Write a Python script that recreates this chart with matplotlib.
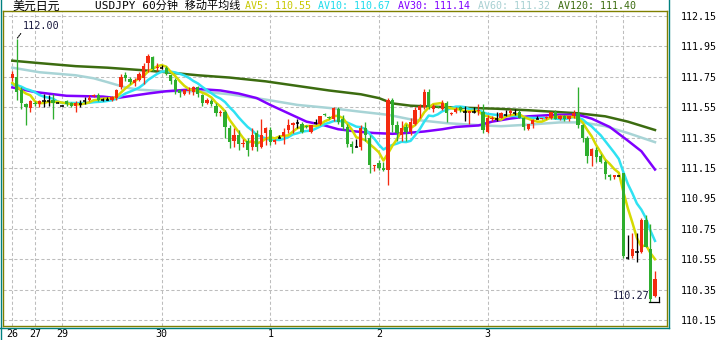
import matplotlib
matplotlib.use('Agg')
import matplotlib.pyplot as plt
from matplotlib.lines import Line2D
import numpy as np

# ---------------- data ----------------
opens = [111.74, 111.75, 111.66, 111.57, 111.545, 111.58, 111.57, 111.59, 111.59, 111.60,
         111.58, 111.56, 111.59, 111.58, 111.56, 111.57, 111.59, 111.60, 111.625, 111.63,
         111.60, 111.60, 111.60, 111.61, 111.68, 111.76, 111.735, 111.71, 111.73, 111.74,
         111.84, 111.88, 111.805, 111.81, 111.81, 111.76, 111.73, 111.66, 111.64, 111.655,
         111.65, 111.68, 111.63, 111.58, 111.59, 111.56, 111.51, 111.52, 111.41, 111.33,
         111.37, 111.31, 111.33, 111.29, 111.38, 111.29, 111.38, 111.40, 111.32, 111.35,
         111.36, 111.40, 111.43, 111.445, 111.44, 111.425, 111.39, 111.445, 111.44, 111.505,
         111.485, 111.47, 111.54, 111.47, 111.42, 111.31, 111.29, 111.29, 111.41, 111.35,
         111.16, 111.18, 111.145, 111.14, 111.60, 111.43, 111.37, 111.42, 111.39, 111.44,
         111.53, 111.55, 111.65, 111.54, 111.555, 111.54, 111.58, 111.505, 111.52, 111.55,
         111.52, 111.515, 111.52, 111.525, 111.52, 111.39, 111.47, 111.475, 111.48, 111.50,
         111.515, 111.51, 111.52, 111.48, 111.405, 111.44, 111.47, 111.475, 111.48, 111.48,
         111.52, 111.47, 111.49, 111.47, 111.49, 111.51, 111.43, 111.35, 111.23, 111.27,
         111.23, 111.19, 111.105, 111.09, 111.10, 111.12, 110.56, 110.57, 110.60, 110.60,
         110.81, 110.62, 110.31]
highs = [111.79, 112.00, 111.68, 111.58, 111.60, 111.59, 111.60, 111.64, 111.63, 111.64,
         111.585, 111.565, 111.60, 111.585, 111.59, 111.60, 111.62, 111.63, 111.635, 111.645,
         111.61, 111.62, 111.625, 111.67, 111.77, 111.78, 111.75, 111.74, 111.78, 111.84,
         111.90, 111.89, 111.84, 111.83, 111.82, 111.77, 111.745, 111.67, 111.67, 111.68,
         111.69, 111.69, 111.64, 111.61, 111.605, 111.58, 111.53, 111.53, 111.43, 111.41,
         111.40, 111.34, 111.35, 111.41, 111.40, 111.47, 111.42, 111.42, 111.34, 111.365,
         111.41, 111.47, 111.45, 111.47, 111.45, 111.43, 111.43, 111.47, 111.495, 111.515,
         111.495, 111.55, 111.55, 111.50, 111.44, 111.33, 111.34, 111.43, 111.45, 111.37,
         111.17, 111.20, 111.19, 111.61, 111.61, 111.46, 111.46, 111.44, 111.48, 111.55,
         111.57, 111.67, 111.67, 111.57, 111.56, 111.60, 111.59, 111.52, 111.55, 111.56,
         111.56, 111.525, 111.55, 111.57, 111.57, 111.50, 111.49, 111.52, 111.52, 111.53,
         111.54, 111.54, 111.53, 111.485, 111.44, 111.47, 111.49, 111.48, 111.49, 111.52,
         111.53, 111.50, 111.50, 111.49, 111.53, 111.68, 111.44, 111.36, 111.28, 111.29,
         111.24, 111.20, 111.11, 111.105, 111.10, 111.12, 110.71, 110.72, 110.72, 110.82,
         110.84, 110.78, 110.47]
lows = [111.72, 111.60, 111.54, 111.43, 111.52, 111.555, 111.55, 111.55, 111.56, 111.47,
        111.575, 111.555, 111.56, 111.55, 111.52, 111.55, 111.57, 111.59, 111.62, 111.59,
        111.59, 111.595, 111.59, 111.60, 111.67, 111.72, 111.70, 111.69, 111.72, 111.70,
        111.78, 111.79, 111.79, 111.80, 111.76, 111.70, 111.64, 111.62, 111.63, 111.64,
        111.63, 111.62, 111.56, 111.57, 111.56, 111.49, 111.49, 111.35, 111.28, 111.29,
        111.27, 111.29, 111.23, 111.27, 111.26, 111.28, 111.30, 111.30, 111.31, 111.345,
        111.31, 111.38, 111.38, 111.41, 111.38, 111.41, 111.38, 111.44, 111.43, 111.49,
        111.47, 111.46, 111.44, 111.40, 111.29, 111.25, 111.29, 111.27, 111.33, 111.12,
        111.13, 111.14, 111.13, 111.04, 111.39, 111.33, 111.33, 111.33, 111.37, 111.43,
        111.48, 111.54, 111.54, 111.52, 111.545, 111.53, 111.45, 111.50, 111.51, 111.52,
        111.46, 111.44, 111.51, 111.50, 111.38, 111.38, 111.46, 111.46, 111.48, 111.49,
        111.50, 111.50, 111.48, 111.40, 111.40, 111.41, 111.47, 111.47, 111.475, 111.47,
        111.47, 111.465, 111.46, 111.46, 111.48, 111.41, 111.32, 111.18, 111.16, 111.19,
        111.18, 111.08, 111.07, 111.08, 111.10, 110.56, 110.55, 110.56, 110.53, 110.59,
        110.63, 110.27, 110.30]
closes = [111.77, 111.65, 111.58, 111.55, 111.59, 111.57, 111.59, 111.59, 111.59, 111.58,
          111.58, 111.56, 111.57, 111.56, 111.58, 111.57, 111.59, 111.61, 111.63, 111.60,
          111.60, 111.60, 111.62, 111.66, 111.75, 111.74, 111.715, 111.73, 111.77, 111.82,
          111.89, 111.80, 111.815, 111.81, 111.77, 111.72, 111.66, 111.645, 111.66, 111.665,
          111.68, 111.64, 111.58, 111.60, 111.57, 111.51, 111.515, 111.42, 111.32, 111.37,
          111.31, 111.315, 111.27, 111.37, 111.29, 111.37, 111.41, 111.32, 111.335, 111.35,
          111.39, 111.43, 111.445, 111.445, 111.39, 111.42, 111.43, 111.445, 111.49, 111.50,
          111.48, 111.545, 111.45, 111.42, 111.31, 111.29, 111.29, 111.41, 111.37, 111.17,
          111.165, 111.15, 111.14, 111.60, 111.43, 111.38, 111.41, 111.39, 111.45, 111.53,
          111.56, 111.65, 111.55, 111.56, 111.55, 111.58, 111.51, 111.51, 111.54, 111.53,
          111.52, 111.52, 111.52, 111.53, 111.40, 111.48, 111.475, 111.475, 111.51, 111.50,
          111.52, 111.51, 111.48, 111.42, 111.44, 111.465, 111.47, 111.48, 111.485, 111.52,
          111.47, 111.49, 111.47, 111.49, 111.51, 111.43, 111.35, 111.23, 111.275, 111.22,
          111.19, 111.11, 111.09, 111.105, 111.10, 110.57, 110.56, 110.62, 110.60, 110.81,
          110.63, 110.29, 110.42]
# closes of the hours before the first visible bar (for the short averages)
prior_closes = [111.70, 111.68, 111.70, 111.68, 111.69, 111.775, 111.705, 111.65, 111.65]

# long averages: (bar index, value)
ma30_idx = [0, 5, 12, 20, 23, 30, 34, 41, 46, 50, 54, 57, 61, 65, 69, 72, 76, 80, 84, 87,
            91, 95, 98, 103, 106, 110, 114, 120, 125, 128, 132, 136, 139, 142]
ma30_val = [111.68, 111.65, 111.625, 111.62, 111.61, 111.64, 111.655, 111.67, 111.66, 111.64,
            111.61, 111.565, 111.51, 111.455, 111.43, 111.405, 111.39, 111.38, 111.375, 111.38,
            111.39, 111.405, 111.42, 111.43, 111.455, 111.475, 111.49, 111.50, 111.50, 111.475,
            111.42, 111.33, 111.26, 111.14]
ma60_idx = [0, 6, 14, 18, 21, 25, 28, 34, 41, 48, 56, 63, 70, 77, 83, 88, 96, 104, 108,
            114, 121, 126, 131, 136, 142]
ma60_val = [111.81, 111.78, 111.76, 111.74, 111.715, 111.68, 111.665, 111.655, 111.655, 111.635,
            111.60, 111.565, 111.545, 111.52, 111.50, 111.47, 111.445, 111.43, 111.425,
            111.435, 111.45, 111.45, 111.425, 111.38, 111.32]
ma120_idx = [0, 6, 14, 21, 28, 34, 41, 48, 56, 63, 70, 77, 81, 84, 88, 96, 107, 114, 125,
             131, 136, 142]
ma120_val = [111.856, 111.84, 111.82, 111.81, 111.795, 111.78, 111.76, 111.745, 111.72, 111.69,
             111.66, 111.635, 111.61, 111.575, 111.56, 111.55, 111.54, 111.53, 111.51,
             111.49, 111.455, 111.40]

day_idx = [0, 5, 11, 33, 57, 81, 105, 129, 135]
day_labels = ['26', '27', '29', '30', '1', '2', '3', '', '']
y_ticks = [112.15, 111.95, 111.75, 111.55, 111.35, 111.15, 110.95, 110.75, 110.55, 110.35, 110.15]
legend_names = ['AV5', 'AV10', 'AV30', 'AV60', 'AV120']
legend_values = [110.55, 110.67, 111.14, 111.32, 111.40]
title_left = '美元日元'
title_main = 'USDJPY 60分钟 移动平均线'

# ---------------- style ----------------
W, H = 723, 340
C_UP = '#F42A10'
C_DN = '#2EAE2E'
C_DOJI = '#000000'
MA_COLORS = ['#D6DA00', '#2FE2F2', '#8000FF', '#A8D4D6', '#3C6C10']
MA_TEXT = ['#C8C800', '#1EDCEC', '#8000FF', '#A8D0D2', '#3C6C10']
OLIVE = '#808000'
TEAL = '#008080'

fig = plt.figure(figsize=(W / 100, H / 100), dpi=100)
fig.patch.set_facecolor('white')

L_PX, R_PX, T_PX, B_PX = 3, 667, 11, 326
ax = fig.add_axes([L_PX / W, 1 - B_PX / H, (R_PX - L_PX) / W, (B_PX - T_PX) / H])

n = len(closes)
x = np.arange(n)
step = 4.526  # pixels per bar
x0_px = 12.3
ax.set_xlim(-(x0_px - L_PX) / step, (n - 1) + (R_PX - (x0_px + (n - 1) * step)) / step)
ax.set_ylim(112.15 - (B_PX - 16) / 152.0, 112.15 + (16 - T_PX) / 152.0)

# grid
for yv in y_ticks:
    ax.axhline(yv, color='#BDBDBD', lw=0.75, ls=(0, (3, 2.2)), zorder=0)
for di in day_idx:
    ax.axvline(di, color='#BDBDBD', lw=0.75, ls=(0, (3, 2.2)), zorder=0)

# moving averages
allc = np.array(prior_closes + closes)
def sma(k):
    s = np.convolve(allc, np.ones(k) / k, mode='valid')
    return s[-n:]
ma5 = sma(5)
ma10 = sma(10)
ax.plot(ma120_idx, ma120_val, color=MA_COLORS[4], lw=1.8, zorder=2)
ax.plot(ma60_idx, ma60_val, color=MA_COLORS[3], lw=1.8, zorder=2)
ax.plot(ma30_idx, ma30_val, color=MA_COLORS[2], lw=1.8, zorder=2)
ax.plot(x, ma10, color=MA_COLORS[1], lw=1.8, zorder=2)
ax.plot(x, ma5, color=MA_COLORS[0], lw=1.8, zorder=2)

# candles
o = np.array(opens); h = np.array(highs); l = np.array(lows); c = np.array(closes)
cols = np.where(c > o, C_UP, np.where(c < o, C_DN, C_DOJI))
ax.vlines(x, l, h, colors=cols, lw=0.95, zorder=3)
bw = 0.72
for i in range(n):
    if c[i] == o[i]:
        ax.hlines(c[i], i - bw / 2, i + bw / 2, colors=C_DOJI, lw=1.1, zorder=4)
    else:
        lo, hi = min(o[i], c[i]), max(o[i], c[i])
        hgt = max(hi - lo, 0.007)
        ax.bar(i, hgt, bottom=lo, width=bw, color=cols[i], lw=0, zorder=4)

# high / low annotations
imax = int(np.argmax(h)); imin = int(np.argmin(l))
ax.annotate(f'{h[imax]:.2f}', xy=(imax, h[imax]), xytext=(6, 8), textcoords='offset pixels',
            fontsize=7.3, family='DejaVu Sans Mono', color='#1A1A40', ha='left', va='bottom',
            arrowprops=dict(arrowstyle='-', ls=(0, (1, 1)), color='black', lw=0.8,
                            shrinkA=0, shrinkB=0, relpos=(0, 0)), zorder=6)
ax.annotate(f'{l[imin]:.2f}', xy=(imin, l[imin]), xytext=(-1, 6), textcoords='offset pixels',
            fontsize=7.3, family='DejaVu Sans Mono', color='#1A1A40', ha='right', va='center',
            zorder=6)
ax.plot([imin - 0.4, imin + 1.8], [l[imin], l[imin]], color='black', lw=0.9, zorder=6)
ax.plot([imin + 1.8, imin + 1.8], [l[imin], l[imin] + 0.03], color='black', lw=0.9, zorder=6)

# axes styling
for s in ax.spines.values():
    s.set_color(OLIVE)
    s.set_linewidth(1.0)
ax.set_facecolor('white')
ax.yaxis.tick_right()
ax.set_yticks(y_ticks)
ax.set_yticklabels([f'{v:.2f}' for v in y_ticks], family='DejaVu Sans Mono', fontsize=7.2)
ax.tick_params(axis='y', length=0, pad=10, colors='black')
ax.set_xticks(day_idx)
ax.set_xticklabels(day_labels, family='DejaVu Sans Mono', fontsize=7.2)
ax.tick_params(axis='x', length=0, pad=2, colors='black')

# outer frame lines
fig.add_artist(Line2D([(R_PX + 1.5) / W] * 2, [1 - (B_PX + 2) / H, 1.0], color=TEAL, lw=1.0))
fig.add_artist(Line2D([0, (R_PX + 1.5) / W], [1 - (B_PX + 2) / H] * 2, color=TEAL, lw=1.0))
fig.add_artist(Line2D([0.8 / W] * 2, [0, 1], color=TEAL, lw=1.0))

# header
ty = 1 - 6 / H
fig.text(12 / W, ty, title_left, family=['Noto Sans CJK SC', 'DejaVu Sans'], fontsize=8.6,
         color='black', va='center', ha='left')
fig.text(95 / W, ty, title_main, family=['DejaVu Sans Mono', 'Noto Sans CJK SC'], fontsize=8.0,
         color='black', va='center', ha='left')
leg_x = [245, 318, 398, 478, 558]
for nm, val, col, lx in zip(legend_names, legend_values, MA_TEXT, leg_x):
    fig.text(lx / W, ty, f'{nm}: {val:.2f}', family='DejaVu Sans Mono', fontsize=7.2,
             color=col, va='center', ha='left')

fig.savefig('out.png', dpi=100, facecolor='white')
